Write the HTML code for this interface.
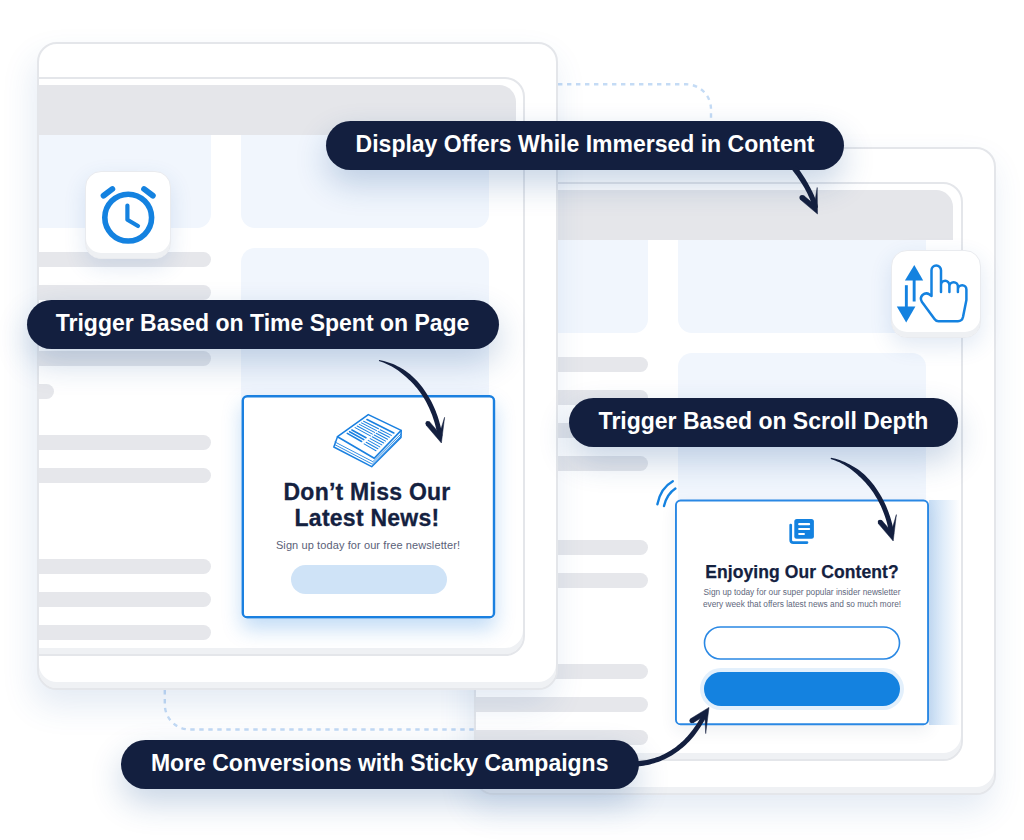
<!DOCTYPE html>
<html><head><meta charset="utf-8">
<style>
*{margin:0;padding:0;box-sizing:border-box}
html,body{width:1024px;height:840px;overflow:hidden;background:#fff}
body{position:relative;font-family:"Liberation Sans",sans-serif}
.abs{position:absolute}
.win{position:absolute;width:521px;height:647.5px;border:2px solid #e4e6ea;border-radius:20px;background:#fff;
 box-shadow:inset 0 -6px 0 #eff1f4,-4px 16px 32px rgba(50,100,170,.13);overflow:hidden}
.inner{position:absolute;left:-41px;top:33px;right:31px;bottom:32px;border:2px solid #e4e6ea;border-radius:20px;background:#fff;
 box-shadow:inset 0 -6px 0 #eff1f4;overflow:hidden}
.inner div{position:absolute}
.bar{left:0;top:6.3px;width:516px;height:50px;background:#e5e6ea;border-radius:0 17px 0 0}
.blk{background:#f1f6fd}
.ln{left:0;width:210.5px;height:15px;border-radius:8px;background:#e6e7eb}
.pill{position:absolute;height:49px;border-radius:25px;background:#131f3f;color:#fff;font-weight:bold;font-size:23px;
 line-height:46.6px;text-align:center;white-space:nowrap;box-shadow:0 14px 32px rgba(25,80,145,.24)}
.ibox{position:absolute;background:#fff;border:1px solid #e9ebef;border-radius:16px;box-shadow:inset 0 -5px 0 #eef0f3,0 8px 22px rgba(40,100,180,.14)}
</style></head><body>

<svg class="abs" style="left:0;top:0" width="1024" height="840">
 <path d="M558 84.3 H686 A25 25 0 0 1 711 109.3 V118" fill="none" stroke="#c4dbf5" stroke-width="2.4" stroke-dasharray="4.4 4.6"/>
 <path d="M164.8 690 V704.5 A25 25 0 0 0 189.8 729.5 H478" fill="none" stroke="#c4dbf5" stroke-width="2.4" stroke-dasharray="4.4 4.6"/>
</svg>

<div class="win" style="left:474px;top:147px;width:522px"><div class="inner"><div class="bar"></div><div class="blk" style="left:0;top:56.3px;width:211px;height:92.5px;border-radius:0 0 14px 0"></div><div class="blk" style="left:241px;top:56.3px;width:247.5px;height:92.5px;border-radius:0 0 14px 14px"></div><div class="blk" style="left:241px;top:169px;width:247.5px;height:200px;border-radius:14px"></div><div class="ln" style="top:172.8px"></div><div class="ln" style="top:206px"></div><div class="ln" style="top:239.2px"></div><div class="ln" style="top:272.4px"></div><div class="ln" style="top:355.7px"></div><div class="ln" style="top:389px"></div><div class="ln" style="top:480px"></div><div class="ln" style="top:513.2px"></div><div class="ln" style="top:546.4px"></div><div class="ln" style="top:305.3px;width:54px"></div></div></div>
<div class="win" style="left:37px;top:42px;width:521px"><div class="inner"><div class="bar"></div><div class="blk" style="left:0;top:56.3px;width:211px;height:92.5px;border-radius:0 0 14px 0"></div><div class="blk" style="left:241px;top:56.3px;width:247.5px;height:92.5px;border-radius:0 0 14px 14px"></div><div class="blk" style="left:241px;top:169px;width:247.5px;height:200px;border-radius:14px"></div><div class="ln" style="top:172.8px"></div><div class="ln" style="top:206px"></div><div class="ln" style="top:239.2px"></div><div class="ln" style="top:272.4px"></div><div class="ln" style="top:355.7px"></div><div class="ln" style="top:389px"></div><div class="ln" style="top:480px"></div><div class="ln" style="top:513.2px"></div><div class="ln" style="top:546.4px"></div><div class="ln" style="top:305.3px;width:54px"></div></div></div>

<!-- left popup card -->
<div class="abs" style="left:241.6px;top:395px;width:253.6px;height:223.5px;border-radius:5.5px;background:#fff;box-shadow:0 10px 20px rgba(20,120,220,.26)"></div>
<svg class="abs" style="left:0;top:0" width="1024" height="840"><rect x="242.8" y="396.2" width="251.2" height="221.1" rx="4.4" fill="none" stroke="#1a80e0" stroke-width="2.4"/></svg>
<div class="abs" style="left:242px;top:479.7px;width:250px;text-align:center;font-weight:bold;font-size:23px;line-height:25.9px;color:#14213f;letter-spacing:0.25px;-webkit-text-stroke:0.3px #14213f;white-space:nowrap">Don’t Miss Our<br>Latest News!</div>
<div class="abs" style="left:242px;top:538.5px;width:252px;text-align:center;font-size:11px;line-height:13px;color:#5a6178;letter-spacing:0.1px;white-space:nowrap">Sign up today for our free newsletter!</div>
<div class="abs" style="left:291px;top:565px;width:156px;height:28.5px;border-radius:15px;background:#cfe3f7"></div>

<!-- right popup card -->
<div class="abs" style="left:929px;top:500px;width:31px;height:225px;background:linear-gradient(90deg,#c6ddf5,#fff)"></div>
<div class="abs" style="left:675px;top:499.5px;width:254px;height:225.7px;border-radius:5.5px;background:#fff;box-shadow:0 6px 16px rgba(40,60,100,.08)"></div>
<svg class="abs" style="left:0;top:0" width="1024" height="840"><rect x="675.95" y="500.45" width="252.1" height="223.8" rx="4.6" fill="none" stroke="#2a88e4" stroke-width="1.9"/>
<rect x="704.5" y="627" width="195" height="32" rx="16" fill="#fff" stroke="#2a88e4" stroke-width="1.6"/></svg>
<div class="abs" style="left:676px;top:562px;width:252px;text-align:center;font-weight:bold;font-size:17.5px;line-height:20px;color:#14213f;letter-spacing:0.1px;-webkit-text-stroke:0.25px #14213f;white-space:nowrap">Enjoying Our Content?</div>
<div class="abs" style="left:676px;top:587.2px;width:252px;text-align:center;font-size:8.3px;line-height:11.7px;color:#60677c;white-space:nowrap">Sign up today for our super popular insider newsletter<br>every week that offers latest news and so much more!</div>
<div class="abs" style="left:703.75px;top:672px;width:196.5px;height:33.6px;border-radius:17px;background:#1482e0;box-shadow:0 0 0 4px #e3f0fc"></div>

<!-- icon boxes -->
<div class="ibox" style="left:84.8px;top:170.7px;width:86.3px;height:88.3px"></div>
<div class="ibox" style="left:891.1px;top:249.8px;width:90.4px;height:87.8px"></div>

<!-- pills -->
<div class="pill" style="left:326px;top:120.5px;width:518px">Display Offers While Immersed in Content</div>
<div class="pill" style="left:26.6px;top:299.8px;width:472px">Trigger Based on Time Spent on Page</div>
<div class="pill" style="left:569.2px;top:397.7px;width:388.6px">Trigger Based on Scroll Depth</div>
<div class="pill" style="left:120.7px;top:739.5px;width:518px">More Conversions with Sticky Campaigns</div>

<svg class="abs" style="left:0;top:0" width="1024" height="840">
 <g fill="none" stroke="#1482e0" stroke-linecap="round">
  <circle cx="128.2" cy="217.6" r="23.4" stroke-width="5.6"/>
  <path d="M127.4 205.5 V219.8 L138 226" stroke-width="4.2" stroke-linejoin="round"/>
  <path d="M103.6 195.6 L112.3 189 M144.1 189 L152.8 195.6" stroke-width="5.9"/>
  <path d="M657.4 504.2 Q660.5 488 672.8 481.2 M664 506 Q667 494 675.4 488.6" stroke-width="2.4"/>
 </g>
 <g fill="#1482e0">
  <path d="M904.9 280.6 H923.2 L914.3 265.1 Z"/>
  <rect x="912.7" y="280" width="2.9" height="21.5"/>
  <path d="M896.8 306.5 H915.4 L906.2 322.5 Z"/>
  <rect x="904.9" y="285.2" width="2.9" height="21.8"/>
 </g>
 <path d="M931.5 296 V270.2 A4.75 4.75 0 0 1 941 270.2 V292 M941 292 V285 A4.2 4.2 0 0 1 949.4 285 V292 M949.4 292 V286.5 A4.25 4.25 0 0 1 957.9 286.5 V292 M957.9 292 V289.5 A4.25 4.25 0 0 1 966.4 289.5 V300 L963 317 Q962 321.2 958 321.2 H938.5 Q936 321.2 934.5 319 L922 302 Q919.5 298 922.5 295 Q926 292 929.5 294.5 L931.5 296" fill="none" stroke="#1482e0" stroke-width="2.5" stroke-linejoin="round" stroke-linecap="round"/>
 <rect x="794.3" y="519" width="19.6" height="19.8" rx="2.5" fill="#1482e0"/>
 <path d="M799.2 524.2 H809.1 M799.2 529 H809.1 M799.2 534 H803.9" stroke="#fff" stroke-width="2.2" stroke-linecap="round"/>
 <path d="M790.7 525 V540 Q790.7 542.6 793.3 542.6 H807" fill="none" stroke="#1482e0" stroke-width="2.7" stroke-linecap="round"/>
 <g stroke="#1a80e0" fill="none" stroke-linejoin="round" stroke-linecap="round">
  <path d="M337.5 436.7 L333.8 447 L371.7 466.7 L401 437.5 L401.2 430.4" fill="#fff" stroke-width="1.5"/>
  <path d="M335 442 L372.5 461.5 M334.5 444.5 L372 464 M373 461.5 L401 434 M372.5 464 L401 436" stroke-width="0.9"/>
  <path d="M337.5 436.7 L368.3 414.6 L401.2 430.4 L374.2 458.3 Z" fill="#fff" stroke-width="1.6"/>
<path d="M367.0 419.6 L393.8 432.9" stroke-width="1.7"/>
<path d="M363.6 421.3 L378.5 428.8 M380.2 429.7 L391.3 435.4 M361.5 422.9 L376.5 430.6 M378.2 431.5 L389.4 437.3 M359.3 424.4 L374.5 432.4 M376.2 433.3 L387.5 439.2 M357.2 426.0 L372.4 434.1 M374.2 435.0 L385.6 441.1 M355.1 427.6 L370.4 435.9 M372.2 436.8 L383.7 443.0 M370.2 438.6 L381.8 444.9 M368.2 440.4 L379.8 446.9 M366.2 442.2 L377.9 448.8 M364.1 443.9 L376.0 450.7" stroke-width="1.05"/>
<path d="M351.9 430.0 L366.0 437.7 M349.6 431.7 L363.8 439.6 M347.3 433.4 L361.6 441.5" stroke-width="1.6"/>

 </g>
<path d="M378.86 361.08 L381.11 361.81 L383.33 362.61 L385.52 363.49 L387.66 364.44 L389.77 365.47 L391.84 366.58 L393.87 367.75 L395.86 369.00 L397.81 370.31 L399.72 371.69 L401.59 373.13 L403.41 374.64 L405.19 376.21 L406.93 377.83 L408.71 379.43 L410.46 381.09 L412.16 382.80 L413.82 384.58 L415.43 386.42 L417.01 388.32 L418.53 390.27 L420.02 392.28 L421.45 394.34 L422.84 396.46 L424.18 398.62 L425.47 400.84 L426.70 403.10 L427.89 405.42 L429.02 407.78 L430.09 410.18 L431.11 412.63 L432.08 415.11 L432.99 417.64 L433.83 420.21 L434.62 422.82 L435.35 425.46 L436.01 428.14 L436.62 430.85 L437.16 433.60 L437.63 436.37 L442.37 435.63 L441.88 432.73 L441.32 429.87 L440.69 427.04 L439.99 424.25 L439.23 421.49 L438.41 418.77 L437.52 416.08 L436.58 413.44 L435.57 410.83 L434.50 408.27 L433.37 405.76 L432.19 403.29 L430.95 400.86 L429.65 398.48 L428.30 396.16 L426.89 393.88 L425.43 391.65 L423.92 389.48 L422.36 387.37 L420.74 385.31 L419.08 383.30 L417.37 381.36 L415.62 379.48 L413.82 377.66 L411.97 375.90 L410.08 374.21 L408.06 372.68 L406.01 371.23 L403.93 369.85 L401.81 368.55 L399.66 367.32 L397.48 366.17 L395.27 365.10 L393.04 364.11 L390.78 363.20 L388.49 362.38 L386.19 361.63 L383.86 360.98 L381.51 360.40 L379.14 359.92Z" fill="#131f3f"/><path d="M441.40 443.00 L426.00 425.00 L429.65 421.88 L439.59 433.50 L444.60 417.30Z" fill="#131f3f" stroke="#131f3f" stroke-width="0.5" stroke-linejoin="round"/><circle cx="427.82" cy="423.44" r="2.40" fill="#131f3f"/>
<path d="M830.65 458.88 L832.90 459.64 L835.12 460.48 L837.31 461.39 L839.45 462.37 L841.56 463.43 L843.63 464.57 L845.66 465.77 L847.65 467.03 L849.60 468.37 L851.51 469.77 L853.38 471.23 L855.20 472.76 L856.99 474.34 L858.72 475.99 L860.51 477.60 L862.25 479.27 L863.95 481.00 L865.61 482.79 L867.23 484.64 L868.80 486.55 L870.33 488.51 L871.81 490.53 L873.25 492.60 L874.64 494.72 L875.98 496.89 L877.26 499.12 L878.50 501.39 L879.69 503.70 L880.82 506.06 L881.89 508.47 L882.91 510.92 L883.88 513.41 L884.79 515.94 L885.63 518.51 L886.42 521.12 L887.15 523.76 L887.81 526.44 L888.42 529.15 L888.96 531.90 L889.43 534.67 L894.17 533.93 L893.68 531.03 L893.12 528.17 L892.49 525.34 L891.79 522.55 L891.03 519.79 L890.21 517.06 L889.32 514.38 L888.38 511.73 L887.37 509.13 L886.30 506.57 L885.17 504.05 L883.99 501.57 L882.75 499.14 L881.45 496.76 L880.10 494.43 L878.69 492.15 L877.23 489.92 L875.72 487.74 L874.16 485.62 L872.55 483.55 L870.89 481.54 L869.18 479.58 L867.42 477.69 L865.62 475.86 L863.78 474.09 L861.89 472.38 L859.87 470.84 L857.82 469.37 L855.74 467.97 L853.62 466.64 L851.47 465.39 L849.29 464.22 L847.09 463.13 L844.85 462.11 L842.59 461.17 L840.31 460.32 L838.00 459.54 L835.67 458.85 L833.32 458.24 L830.95 457.72Z" fill="#131f3f"/><path d="M893.20 541.00 L878.30 523.60 L881.95 520.48 L891.34 531.45 L896.40 514.60Z" fill="#131f3f" stroke="#131f3f" stroke-width="0.5" stroke-linejoin="round"/><circle cx="880.12" cy="522.04" r="2.40" fill="#131f3f"/>
<path d="M792.03 169.80 L792.68 170.60 L793.33 171.43 L793.99 172.28 L794.65 173.15 L795.31 174.04 L795.98 174.94 L796.65 175.86 L797.31 176.80 L797.98 177.75 L798.64 178.72 L799.30 179.70 L799.95 180.69 L800.60 181.69 L801.25 182.69 L801.88 183.71 L802.51 184.73 L803.14 185.76 L803.75 186.80 L804.35 187.83 L804.94 188.87 L805.51 189.92 L806.07 190.97 L806.61 192.02 L807.14 193.06 L807.65 194.11 L808.14 195.14 L808.62 196.17 L809.09 197.20 L809.53 198.22 L809.95 199.23 L810.36 200.22 L810.74 201.21 L811.10 202.18 L811.44 203.14 L811.75 204.09 L812.05 205.02 L812.31 205.93 L812.55 206.82 L812.77 207.68 L812.95 208.53 L818.05 207.47 L817.83 206.50 L817.59 205.51 L817.32 204.52 L817.02 203.51 L816.70 202.49 L816.36 201.46 L815.99 200.41 L815.60 199.37 L815.19 198.31 L814.76 197.24 L814.31 196.17 L813.84 195.09 L813.35 194.01 L812.85 192.93 L812.33 191.84 L811.79 190.74 L811.24 189.65 L810.67 188.56 L810.10 187.47 L809.51 186.38 L808.92 185.28 L808.32 184.19 L807.71 183.10 L807.09 182.02 L806.46 180.94 L805.83 179.87 L805.18 178.81 L804.54 177.76 L803.88 176.72 L803.23 175.69 L802.56 174.67 L801.90 173.66 L801.23 172.67 L800.57 171.69 L799.90 170.73 L799.23 169.79 L798.56 168.86 L797.90 167.96 L797.23 167.07 L796.57 166.20Z" fill="#131f3f"/><path d="M817.50 214.00 L800.40 199.60 L803.75 195.62 L814.43 204.62 L817.20 187.50Z" fill="#131f3f" stroke="#131f3f" stroke-width="0.5" stroke-linejoin="round"/><circle cx="802.07" cy="197.61" r="2.60" fill="#131f3f"/>
<path d="M637.17 766.39 L639.33 766.21 L641.48 765.96 L643.62 765.66 L645.74 765.30 L647.85 764.88 L649.95 764.40 L652.02 763.87 L654.08 763.27 L656.12 762.62 L658.15 761.91 L660.15 761.14 L662.14 760.32 L664.11 759.45 L666.05 758.53 L667.98 757.55 L669.89 756.51 L671.77 755.42 L673.63 754.27 L675.47 753.06 L677.28 751.80 L679.06 750.48 L680.82 749.11 L682.55 747.68 L684.25 746.19 L685.92 744.65 L687.57 743.05 L689.18 741.40 L690.77 739.70 L692.32 737.94 L693.84 736.13 L695.33 734.26 L696.79 732.34 L698.21 730.36 L699.60 728.33 L700.95 726.25 L702.26 724.11 L703.54 721.93 L704.79 719.69 L705.99 717.39 L707.16 715.05 L702.84 712.95 L701.72 715.21 L700.56 717.40 L699.37 719.55 L698.15 721.64 L696.89 723.68 L695.60 725.67 L694.28 727.60 L692.93 729.48 L691.54 731.31 L690.13 733.09 L688.68 734.81 L687.21 736.48 L685.71 738.09 L684.18 739.65 L682.63 741.16 L681.05 742.62 L679.44 744.02 L677.81 745.37 L676.15 746.66 L674.47 747.90 L672.77 749.09 L671.05 750.22 L669.30 751.30 L667.54 752.33 L665.75 753.30 L663.94 754.22 L662.11 755.09 L660.27 755.90 L658.40 756.64 L656.51 757.33 L654.60 757.96 L652.69 758.54 L650.75 759.06 L648.80 759.53 L646.84 759.95 L644.86 760.31 L642.87 760.62 L640.87 760.87 L638.86 761.06 L636.83 761.21Z" fill="#131f3f"/><path d="M709.00 707.40 L690.50 718.80 L693.02 722.89 L704.85 715.60 L705.70 733.60Z" fill="#131f3f" stroke="#131f3f" stroke-width="0.5" stroke-linejoin="round"/><circle cx="691.76" cy="720.84" r="2.40" fill="#131f3f"/>

</svg>
</body></html>
